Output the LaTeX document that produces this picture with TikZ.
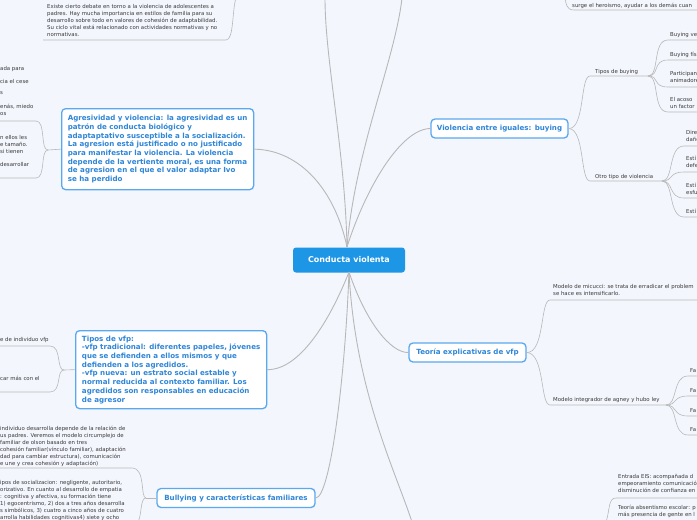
\documentclass[tikz,border=0pt]{standalone}
\usepackage{fontspec}
\setmainfont{DejaVu Sans}
\definecolor{bg}{HTML}{F3F6FD}
\definecolor{bx}{HTML}{5AA8EE}
\definecolor{bt}{HTML}{2F86D8}
\definecolor{cf}{HTML}{1E96E6}
\definecolor{ln}{HTML}{B8B8B8}
\definecolor{st}{HTML}{3A3A3A}
\begin{document}
\begin{tikzpicture}[x=1pt,y=-1pt,
  main/.style={draw=bx,line width=1.3pt,fill=white,rounded corners=4pt,text=bt,font=\fontsize{7.1}{8.7}\selectfont\bfseries,align=left,inner sep=5pt},
  ctr/.style={fill=cf,rounded corners=3pt,text=white,font=\fontsize{8}{10}\selectfont\bfseries,minimum width=112pt,minimum height=25pt},
  sm/.style={text=st,font=\fontsize{5.4}{7}\selectfont,align=left,anchor=north west,inner sep=0pt},
  con/.style={draw=ln,line width=0.9pt},
  thin/.style={draw=ln,line width=0.6pt}]
\useasboundingbox[fill=bg] (0,0) rectangle (697,520);
% central
\node[ctr] (c) at (349,260) {Conducta violenta};
\coordinate (ct) at (347,247);
\coordinate (cb) at (349,272);
% main boxes
\node[main,minimum width=192pt,minimum height=81pt,anchor=north west] (agr) at (61,108) {Agresividad y violencia: la agresividad es un\\patrón de conducta biológico y\\adaptaptativo susceptible a la socialización.\\La agresion está justificado o no justificado\\para manifestar la violencia. La violencia\\depende de la vertiente moral, es una forma\\de agresion en el que el valor adaptar Ivo\\se ha perdido};
\node[main,minimum width=137pt,minimum height=19pt,align=center,inner sep=2pt] (buy) at (499.5,128.5) {Violencia entre iguales: buying};
\node[main,minimum width=191pt,minimum height=78pt,anchor=north west] (vfp) at (75,330) {Tipos de vfp:\\-vfp tradicional: diferentes papeles, jóvenes\\que se defienden a ellos mismos y que\\defienden a los agredidos.\\-vfp nueva: un estrato social estable y\\normal reducida al contexto familiar. Los\\agredidos son responsables en educación\\de agresor};
\node[main,minimum width=117pt,minimum height=19pt,align=center,inner sep=2pt] (teo) at (467.5,352.5) {Teoría explicativas de vfp};
\node[main,minimum width=158pt,minimum height=19pt,align=center,inner sep=2pt] (bul) at (236,498) {Bullying y características familiares};
% off-image ends
\coordinate (t1) at (325,-2);
\coordinate (t2) at (402,-2);
\coordinate (b1) at (412,522);
% central connectors
\draw[con] (ct) .. controls (335,190) and (300,150) .. (agr.east);
\draw[con] (ct) .. controls (345,150) and (325,60) .. (t1);
\draw[con] (ct) .. controls (355,150) and (395,60) .. (t2);
\draw[con] (ct) .. controls (365,190) and (400,129) .. (buy.west);
\draw[con] (cb) .. controls (330,320) and (300,370) .. (vfp.east);
\draw[con] (cb) .. controls (345,380) and (330,498) .. (bul.east);
\draw[con] (cb) .. controls (355,390) and (395,470) .. (b1);
\draw[con] (cb) .. controls (365,320) and (390,353) .. (teo.west);
% top texts
\node[sm] (tx1) at (47,4) {Existe cierto debate en torno a la violencia de adolescentes a\\padres. Hay mucha importancia en estilos de familia para su\\desarrollo sobre todo en valores de cohesión de adaptabilidad.\\Su ciclo vital está relacionado con actividades normativas y no\\normativas.};
\coordinate (tx1a) at (43,40);
\coordinate (tx1b) at (226,40);
\coordinate (tx1c) at (236,-2);
\draw[thin] (tx1a) -- (tx1b) .. controls (234,40) and (232,10) .. (tx1c);
\node[sm] (tx2) at (572,3) {surge el heroismo, ayudar a los demás cuan};
\coordinate (tx2a) at (697,10);
\coordinate (tx2b) at (574,10);
\coordinate (tx2c) at (565,-2);
\draw[thin] (tx2a) -- (tx2b) .. controls (566,10) and (566,3) .. (tx2c);
% agresividad left children
\node[sm] at (0,66) {ada para};
\node[sm] at (0,79) {cia el cese};
\node[sm] at (0,91) {s};
\node[sm] at (0,104) {enás, miedo\\os};
\node[sm] at (0,135) {n ellos les\\e tamaño.\\ si tienen};
\node[sm] at (0,162) {desarrollar};
\coordinate (ag0) at (48,150);
\coordinate (ag1) at (0,121);
\coordinate (ag2) at (0,178);
\draw[thin] (agr.west) -- (ag0);
\draw[thin] (ag0) .. controls (40,150) and (46,121) .. (36,121) -- (ag1);
\draw[thin] (ag0) .. controls (40,150) and (46,178) .. (36,178) -- (ag2);
% buying children
\node[sm] (tb) at (595,69) {Tipos de buying};
\node[sm] (ot) at (595,174) {Otro tipo de violencia};
\coordinate (tbL) at (590,76); \coordinate (tbR) at (648,76);
\coordinate (otL) at (590,181); \coordinate (otR) at (662,181);
\draw[thin] (buy.east) .. controls (585,129) and (580,76) .. (tbL) -- (tbR);
\draw[thin] (buy.east) .. controls (585,129) and (580,181) .. (otL) -- (otR);
\foreach \y/\t in {32/{Buying ve},52/{Buying fís},71/{Participan\\animadore},97/{El acoso\\un factor}}{\node[sm] at (670,\y) {\t};}
\foreach \y in {40,60,87,112}{\draw[thin] (tbR) .. controls (660,76) and (652,\y) .. (668,\y) -- (697,\y);}
\foreach \y/\t in {130/{Dire\\daño},156/{Estí\\defe},183/{Estí\\esfu},209/{Estí}}{\node[sm] at (686,\y) {\t};}
\foreach \y in {146,172,198,217}{\draw[thin] (otR) .. controls (674,181) and (668,\y) .. (684,\y) -- (697,\y);}
% vfp left
\node[sm] at (0,337) {e de individuo vfp};
\node[sm] at (0,376) {car más con el};
\coordinate (vf0) at (64,370);
\draw[thin] (vfp.west) -- (vf0);
\draw[thin] (vf0) .. controls (56,370) and (62,346) .. (50,346) -- (0,346);
\draw[thin] (vf0) .. controls (56,370) and (62,392) .. (50,392) -- (0,392);
% teoria children
\node[sm] (mm) at (553,284) {Modelo de micucci:  se trata de erradicar el problem\\se hace es intensificarlo.};
\node[sm] (mi) at (553,397) {Modelo integrador de agney y hubo ley};
\coordinate (miR) at (666,405);
\draw[thin] (teo.east) .. controls (545,353) and (540,300) .. (550,300) -- (697,300);
\draw[thin] (teo.east) .. controls (545,353) and (540,405) .. (550,405) -- (miR);
\foreach \y in {368,388,408,427}{\node[sm] at (690,\y) {Fa};}
\foreach \y in {376,396,416,435}{\draw[thin] (miR) .. controls (678,405) and (672,\y) .. (688,\y) -- (697,\y);}
% bullying left
\node[sm] at (0,426) {individuo desarrolla depende de la relación de\\us padres. Veremos el modelo circumplejo de\\familiar de olson basado en tres\\cohesión familiar(vínculo familiar), adaptación\\dad para cambiar estructura), comunicación\\e une y crea cohesión y adaptación)};
\node[sm] at (0,480) {ipos de socializacion: negligente, autoritario,\\orizativo. En cuanto al desarrollo de empatia\\: cognitiva y afectiva, su formación tiene\\1) egocentrismo, 2) dos a tres años desarrolla\\s simbólicos, 3) cuatro a cinco años de cuatro\\arrolla habilidades cognitivas4) siete y ocho};
\coordinate (bu0) at (146,498);
\draw[thin] (bul.west) -- (bu0);
\draw[thin] (bu0) .. controls (140,498) and (146,468) .. (132,468) -- (0,468);
\coordinate (bu2) at (138,522);
\draw[thin] (bu0) .. controls (140,498) and (142,515) .. (bu2);
% bottom right
\node[sm] at (618,474) {Entrada EIS: acompañada d\\empeoramiento comunicació\\disminución de confianza en};
\node[sm] at (618,505) {Teoría absentismo escolar: p\\más presencia de gente en l};
\coordinate (br0) at (606,522);
\draw[thin] (697,498) -- (616,498) .. controls (608,498) and (610,510) .. (br0);
\end{tikzpicture}
\end{document}
